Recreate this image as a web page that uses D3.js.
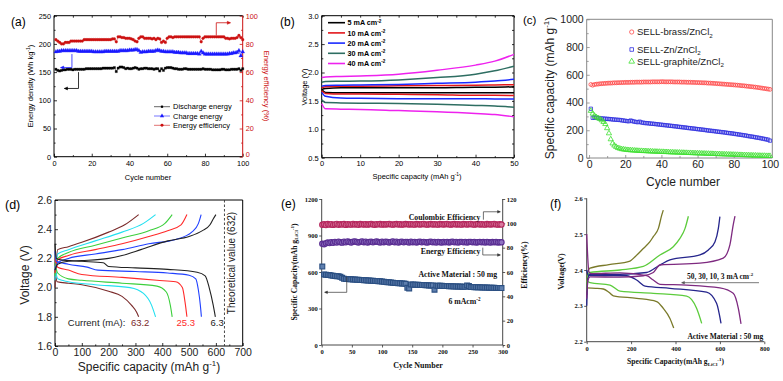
<!DOCTYPE html>
<html><head><meta charset="utf-8">
<script src="https://cdn.jsdelivr.net/npm/d3@7"></script>
<style>body{margin:0;background:#fff}svg{display:block}</style>
</head><body><svg id="c" width="783" height="381"></svg>
<script>
// ---------------- DATA ----------------
// (a)
const A_DIS = [155,153,152,153,154,154,155,155,155,154,155,155,155,155,155,155,156,156,156,156,
156,156,156,156,156,157,157,157,157,157,157,158,151,157,159,159,158,156,157,156,
156,157,158,157,155,156,156,157,157,156,156,156,155,156,156,152,156,153,157,158,
158,158,157,156,156,155,155,155,156,156,155,155,155,155,155,155,155,155,156,155,
155,155,155,154,154,154,154,154,155,155,154,154,154,155,155,155,155,156,153,156];
const A_CH = [186,187,187,188,188,188,188,188,188,188,188,188,187,187,187,187,187,187,187,187,
186,186,186,186,186,186,187,187,187,187,187,187,187,187,188,188,188,188,188,189,
189,189,190,190,188,185,186,186,186,187,187,187,187,188,189,188,187,187,186,186,
186,186,186,185,185,185,184,184,184,184,183,183,183,183,183,183,182,187,184,182,
182,182,182,182,182,182,182,182,182,182,182,182,183,183,184,184,185,188,179,186];
const A_EFF = [83,82,81,80,80,81,81,81,82,82,82,82,82,82,82,83,83,83,83,83,
83,83,83,83,83,83,83,83,83,83,83.5,83.5,81.5,85,85,84.5,84.5,84,84,84,
83.5,83,82,81.5,84,85,85,84,84,84,84,83.5,84,83,84,83.5,81,82,81,84,
85,85,84.5,85,85,85,85,85,85,85,85,85,85,85,85,85,85,81.5,84,85,
85,85,85,85,85,85,85,85,85,85,84,84,83.5,84,84,84,84.5,86,84.5,83];
const A_TICKX = [0,20,40,60,80,100], A_TICKY = [0,50,100,150,200,250], A_TICKY2 = [0,20,40,60,80,100];

// (b)
const B_X = [0,1,5,10,20,30,40,45,50];
const B_LABELS = ["5","10","20","30","40"];
const B_CHG = [
 [1.70,1.72,1.73,1.73,1.73,1.73,1.74,1.74,1.75],
 [1.73,1.75,1.76,1.76,1.765,1.77,1.775,1.78,1.785],
 [1.76,1.77,1.775,1.78,1.79,1.81,1.83,1.85,1.88],
 [1.83,1.84,1.845,1.85,1.87,1.91,1.97,2.03,2.11],
 [1.91,1.92,1.93,1.94,1.97,2.04,2.13,2.20,2.32]];
const B_DIS = [
 [1.70,1.65,1.645,1.645,1.645,1.645,1.645,1.645,1.645],
 [1.68,1.63,1.62,1.62,1.615,1.61,1.60,1.60,1.595],
 [1.65,1.58,1.55,1.545,1.54,1.54,1.54,1.535,1.535],
 [1.52,1.47,1.465,1.46,1.455,1.44,1.42,1.41,1.39],
 [1.45,1.36,1.355,1.35,1.33,1.31,1.28,1.26,1.22]];

// (c)
const C_BRASS = [530,525,530,532,533,535,536,537,538,539,540,540,541,542,542,543,543,544,544,545,
545,545,546,546,546,547,547,547,547,548,548,548,548,548,549,549,549,549,549,550,
550,549,549,549,549,549,548,548,548,548,547,547,547,546,546,546,545,545,544,544,
543,543,542,542,541,540,540,539,538,537,536,535,534,533,532,531,530,529,528,527,
526,525,524,522,521,520,518,517,515,514,512,511,509,507,505,503,501,499,497,495];
const C_ZN = [355,290,292,290,288,286,285,284,283,282,281,280,278,277,276,275,274,272,270,268,
266,265,270,266,262,260,258,262,256,254,252,251,250,248,247,246,244,243,241,240,
238,237,235,234,232,231,229,228,226,224,223,221,220,218,216,215,213,212,210,208,
207,205,204,202,200,198,197,195,194,192,190,189,187,186,184,182,180,179,177,175,
173,171,169,167,165,163,161,158,156,154,152,149,147,145,142,140,137,134,132,125];
const C_GR = [340,320,305,295,288,282,272,260,245,215,178,135,105,90,80,72,68,64,62,60,
58,57,56,55,54,53,52,51,51,50,50,49,48,48,47,46,46,45,45,44,
44,43,43,42,41,41,40,40,39,39,38,38,37,37,36,36,35,35,34,34,
33,33,32,32,31,31,30,30,29,29,28,28,27,27,26,26,25,25,24,24,
23,23,22,22,21,21,20,20,19,19,18,18,17,17,16,16,16,15,15,15];
const C_TICKX = [0,20,40,60,80,100], C_TICKY = [0,200,400,600,800,1000];

// (d)
const D_CURR = ["63.2","","","25.3","","6.3"];
const D_COLORS = ["#7a2a2a","#22e0f0","#3ccf3c","#ff2a2a","#2040ff","#222222"];
const D_CHG = [
 [[0,2.0],[10,2.26],[50,2.28],[100,2.31],[200,2.38],[260,2.43],[312,2.5]],
 [[0,2.05],[10,2.23],[50,2.26],[150,2.32],[250,2.38],[330,2.44],[375,2.5]],
 [[0,2.08],[10,2.2],[50,2.24],[150,2.29],[250,2.34],[350,2.39],[410,2.44],[437,2.5]],
 [[0,2.1],[10,2.19],[50,2.22],[150,2.26],[250,2.30],[350,2.35],[420,2.39],[470,2.43],[492,2.5]],
 [[0,2.12],[10,2.17],[50,2.20],[150,2.23],[250,2.26],[350,2.30],[450,2.33],[510,2.38],[535,2.44],[545,2.5]],
 [[0,2.12],[10,2.16],[50,2.18],[100,2.185],[200,2.20],[250,2.22],[320,2.26],[420,2.32],[500,2.35],[550,2.39],[578,2.43],[590,2.47],[600,2.5]]];
const D_DIS = [
 [[0,2.12],[8,2.04],[50,2.03],[100,2.02],[200,1.975],[250,1.94],[285,1.88],[305,1.83],[312,1.8]],
 [[0,2.15],[10,2.06],[50,2.04],[150,2.02],[280,2.0],[330,1.96],[360,1.88],[375,1.8]],
 [[0,2.17],[10,2.1],[50,2.06],[100,2.05],[250,2.03],[380,2.01],[415,1.97],[430,1.88],[437,1.8]],
 [[0,2.2],[10,2.14],[50,2.12],[100,2.09],[250,2.07],[380,2.05],[450,2.04],[475,2.0],[485,1.9],[492,1.8]],
 [[0,2.25],[5,2.18],[50,2.16],[120,2.14],[160,2.12],[300,2.11],[420,2.10],[500,2.085],[525,2.06],[535,1.98],[542,1.88],[546,1.8]],
 [[0,2.3],[5,2.2],[20,2.19],[100,2.18],[180,2.17],[200,2.145],[300,2.135],[420,2.125],[530,2.105],[560,2.08],[575,2.0],[590,1.88],[598,1.8]]];
const D_THEO = 632;

// (e)
const E_CE = [98.8,99.2,98.6,99.4,98.9,99.3,98.7,99.1,99.5,98.8,99.2,99.0,99.4,98.7,99.3,99.1,98.9,99.5,99.0,99.2,
98.8,99.4,99.1,99.0,99.3,98.9,99.2,99.5,99.0,98.8,99.3,99.1,99.4,98.9,99.2,99.0,99.3,99.5,99.1,98.9,
99.2,99.4,99.0,99.3,98.9,99.1,99.4,99.2,99.0,99.3,99.1,98.9,99.4,99.2,99.0,99.3,99.5,99.1,98.9,99.2,
99.4,99.0,99.3,99.1,98.9,99.4,99.2,99.0,99.3,99.5,99.1,98.9,99.2,99.4,99.0,99.3,99.1,98.9,99.4,99.2,
99.0,99.3,99.5,99.1,98.9,99.2,99.4,99.0,99.3,99.1,98.9,99.4,99.2,99.0,99.3,99.5,99.1,98.9,99.2,99.0];
const E_EE = [83.2,82.8,83.6,84.2,83.8,84.5,84.0,84.8,84.3,85.0,84.5,84.1,84.9,84.4,85.1,84.6,84.2,84.9,85.2,84.7,
84.3,84.8,85.1,84.5,84.9,84.2,84.7,85.0,84.4,84.8,85.1,84.6,84.3,84.9,84.5,85.0,84.7,84.3,84.8,85.1,
84.5,84.9,84.2,84.7,85.0,84.4,84.8,84.6,84.3,84.9,84.5,84.8,84.3,84.7,85.0,84.4,84.8,84.5,84.2,84.7,
84.9,84.4,84.7,84.3,84.8,84.5,84.2,84.7,84.4,84.8,84.3,84.6,84.9,84.4,84.7,84.3,84.6,84.8,84.4,84.7,
84.3,84.6,84.8,84.4,84.7,84.3,84.5,84.8,84.4,84.6,84.3,84.7,84.5,84.2,84.6,84.4,84.7,84.3,84.5,84.4];
const E_CAP = [645,580,578,576,575,572,570,568,566,565,560,552,545,543,542,541,540,539,538,537,
536,535,534,533,532,531,530,529,528,527,526,525,524,522,520,518,516,515,514,512,
510,510,508,507,506,505,503,470,465,498,497,496,496,495,494,493,493,492,491,490,
490,489,455,488,487,487,486,485,485,484,483,483,482,481,481,480,480,479,478,478,
490,485,476,476,475,475,474,474,473,473,472,472,471,471,470,470,469,469,469,468];
const E_TICKX = [0,50,100,150,200,250,300], E_TICKY = [0,300,600,900,1200], E_TICKY2 = [0,20,40,60,80,100,120];

// (f)
const F_COLORS = ["#7a7a2a","#5ccc3c","#25258c","#7e2a80"];
const F_CHG = [
 [[0,2.33],[3,2.39],[15,2.405],[100,2.415],[195,2.425],[218,2.437],[255,2.46],[285,2.479],[300,2.493],[323,2.516],[338,2.553],[345,2.567]],
 [[0,2.34],[5,2.385],[15,2.393],[150,2.4],[255,2.41],[330,2.442],[390,2.465],[420,2.488],[443,2.516],[458,2.55]],
 [[0,2.3],[5,2.375],[15,2.388],[150,2.388],[270,2.393],[330,2.414],[375,2.428],[510,2.442],[548,2.456],[578,2.479],[593,2.516],[600,2.549]],
 [[0,2.32],[5,2.37],[15,2.381],[150,2.38],[255,2.384],[300,2.393],[330,2.414],[510,2.419],[615,2.433],[645,2.47],[660,2.526],[668,2.55]]];
const F_DIS = [
 [[0,2.35],[40,2.349],[75,2.347],[100,2.338],[120,2.328],[225,2.321],[315,2.312],[345,2.293],[375,2.265],[392,2.238]],
 [[0,2.37],[15,2.365],[105,2.358],[150,2.341],[300,2.335],[450,2.327],[495,2.293],[518,2.251]],
 [[0,2.40],[8,2.385],[180,2.384],[225,2.372],[263,2.355],[375,2.349],[540,2.338],[585,2.307],[605,2.251]],
 [[0,2.5],[10,2.395],[20,2.39],[150,2.392],[270,2.384],[300,2.372],[330,2.36],[450,2.358],[600,2.35],[660,2.335],[683,2.293],[695,2.25]]];
const F_TICKX = [0,200,400,600,800], F_TICKY = [2.2,2.3,2.4,2.5,2.6];

// ---------------- HELPERS ----------------
const SANS = "'Liberation Sans', Arial, sans-serif";
const SERIF = "'Liberation Serif', 'Times New Roman', serif";
const INT = d3.format('d');
const svg = d3.select('#c');
svg.append('rect').attr('width',783).attr('height',381).attr('fill','#fff');

function ax(gen, tr, o) {
  const a = svg.append('g').attr('transform', tr).call(gen);
  a.select('.domain').remove();
  a.selectAll('.tick line').attr('stroke', o.c || '#000').attr('stroke-width', o.w || 0.8);
  a.selectAll('.tick text').attr('font-family', o.f || SANS).attr('font-size', o.s || 8)
    .attr('font-weight', o.b ? 'bold' : 'normal').attr('fill', o.tc || o.c || '#000');
  return a;
}
function frame(x, y, sides, color, w) {
  const [x0,x1] = x.range(), [y0,y1] = y.range();
  const seg = {l:[x0,y0,x0,y1], r:[x1,y0,x1,y1], t:[x0,y1,x1,y1], b:[x0,y0,x1,y0]};
  sides.split('').forEach(s => {
    const v = seg[s];
    svg.append('line').attr('x1',v[0]).attr('y1',v[1]).attr('x2',v[2]).attr('y2',v[3])
      .attr('stroke', (color && color[s]) || '#000').attr('stroke-width', w || 1);
  });
}
function rich(t, parts, fs) {
  let shift = 0;
  parts.forEach(p => {
    const s = p[0], k = p[1] || 'n';
    const target = k === 'sup' ? -0.38*fs : k === 'sub' ? 0.25*fs : 0;
    const ts = t.append('tspan').text(s).attr('dy', target - shift);
    if (k !== 'n') ts.attr('font-size', fs*0.65);
    shift = target;
  });
  return t;
}
function txt(x, y, parts, o) {
  const t = svg.append('text').attr('font-family', o.f || SANS).attr('font-size', o.s)
    .attr('font-weight', o.b ? 'bold' : 'normal').attr('fill', o.c || '#000')
    .attr('text-anchor', o.a || 'start');
  if (o.rot) t.attr('transform', `translate(${x},${y}) rotate(${o.rot})`);
  else t.attr('x', x).attr('y', y);
  return rich(t, typeof parts === 'string' ? [[parts]] : parts, o.s);
}
function arrowPath(pts, color, w, head) {
  svg.append('path').attr('d', d3.line()(pts)).attr('fill','none').attr('stroke',color).attr('stroke-width', w||0.8);
  const [p1, p0] = [pts[pts.length-1], pts[pts.length-2]];
  const ang = Math.atan2(p1[1]-p0[1], p1[0]-p0[0]), h = head || 4;
  const a1 = [p1[0]-h*Math.cos(ang-0.45), p1[1]-h*Math.sin(ang-0.45)];
  const a2 = [p1[0]-h*Math.cos(ang+0.45), p1[1]-h*Math.sin(ang+0.45)];
  svg.append('path').attr('d', d3.line()([p1,a1,a2,p1])).attr('fill',color).attr('stroke',color).attr('stroke-width',0.5);
}
function symbols(data, x, y, type, size, fill, stroke, sw) {
  const sym = d3.symbol().type(type).size(size);
  svg.append('g').selectAll('path').data(data).join('path')
    .attr('transform', d => `translate(${x(d[0])},${y(d[1])})`).attr('d', sym)
    .attr('fill', fill).attr('stroke', stroke).attr('stroke-width', sw || 0.8);
}
function curve(data, x, y, color, w, c) {
  svg.append('path').datum(data).attr('fill','none').attr('stroke',color).attr('stroke-width',w)
    .attr('stroke-linejoin','round')
    .attr('d', d3.line().x(d=>x(d[0])).y(d=>y(d[1])).curve(c || d3.curveMonotoneX));
}

// ---------------- (a) ----------------
{
  const cyc = d3.range(1, 101);
  const x = d3.scaleLinear().domain([0,100]).range([54,242.7]);
  const y = d3.scaleLinear().domain([0,250]).range([156.7,15.7]);
  const y2 = d3.scaleLinear().domain([0,100]).range([156.7,15.7]);
  const red = '#cc1010', blue = '#1a1aff';
  ax(d3.axisBottom(x).tickValues(A_TICKX).tickSize(-3).tickPadding(4), `translate(0,156.7)`, {s:7.3});
  ax(d3.axisBottom(x).tickValues(d3.range(10,100,20)).tickSize(-1.6).tickFormat(''), `translate(0,156.7)`, {});
  ax(d3.axisTop(x).tickValues(d3.range(0,101,10)).tickSize(-2).tickFormat(''), `translate(0,15.7)`, {});
  ax(d3.axisLeft(y).tickValues(A_TICKY).tickSize(-3).tickPadding(3), `translate(54,0)`, {s:7.3});
  ax(d3.axisLeft(y).tickValues(d3.range(25,250,50)).tickSize(-1.6).tickFormat(''), `translate(54,0)`, {});
  const r = ax(d3.axisRight(y2).tickValues(A_TICKY2).tickSize(-3).tickPadding(3), `translate(242.7,0)`, {s:7.3, c:red});
  r.selectAll('.tick text').filter(d => d === 0).attr('dy', '-0.05em');
  ax(d3.axisRight(y2).tickValues(d3.range(10,100,20)).tickSize(-1.6).tickFormat(''), `translate(242.7,0)`, {c:red});
  frame(x, y, 'ltb'); frame(x, y, 'r', {r:red});
  const dis = cyc.map((c,i)=>[c,A_DIS[i]]), ch = cyc.map((c,i)=>[c,A_CH[i]]), ef = cyc.map((c,i)=>[c,A_EFF[i]]);
  curve(dis, x, y, '#000', 0.5, d3.curveLinear); symbols(dis, x, y, d3.symbolSquare, 5, '#000', '#000', 0.3);
  curve(ch, x, y, blue, 0.5, d3.curveLinear); symbols(ch, x, y, d3.symbolTriangle, 7, blue, blue, 0.3);
  curve(ef, x, y2, red, 0.5, d3.curveLinear); symbols(ef, x, y2, d3.symbolCircle, 6, red, red, 0.3);
  const lg = [['Discharge energy','#000',d3.symbolSquare,5],['Charge energy',blue,d3.symbolTriangle,8],['Energy efficiency',red,d3.symbolCircle,7]];
  lg.forEach((l,i)=>{
    const yy = 106.7 + i*9.3;
    svg.append('line').attr('x1',154).attr('x2',170).attr('y1',yy).attr('y2',yy).attr('stroke',l[1]).attr('stroke-width',0.6);
    svg.append('path').attr('transform',`translate(162,${yy})`).attr('d',d3.symbol().type(l[2]).size(l[3])()).attr('fill',l[1]);
    txt(173, yy+2.7, l[0], {s:7.5});
  });
  arrowPath([[x(13),y(150)],[x(13),y(121)],[x(5.5),y(121)]], '#000', 0.8, 3.5);
  arrowPath([[x(9.5),y(182)],[x(9.5),y(158)],[x(3.5),y(158)]], blue, 0.8, 3.5);
  arrowPath([[x(86),y2(86)],[x(86),y2(95)],[x(93.5),y2(95)]], red, 0.8, 3.5);
  txt(148, 180, 'Cycle number', {s:7.5, a:'middle'});
  txt(32.5, 86, [['Energy density (Wh kg'],['-1','sup'],[')']], {s:7.5, a:'middle', rot:-90});
  txt(263.5, 86, 'Energy efficiency (%)', {s:7.5, a:'middle', rot:90, c:red});
  txt(11, 26, '(a)', {s:12});
}

// ---------------- (b) ----------------
{
  const x = d3.scaleLinear().domain([0,50]).range([321.7,514]);
  const y = d3.scaleLinear().domain([0.5,3.0]).range([157.7,15.7]);
  ax(d3.axisBottom(x).tickValues([0,10,20,30,40,50]).tickSize(-3).tickPadding(3), `translate(0,157.7)`, {s:7.5});
  ax(d3.axisBottom(x).tickValues([5,15,25,35,45]).tickSize(-1.6).tickFormat(''), `translate(0,157.7)`, {});
  ax(d3.axisTop(x).tickValues(d3.range(0,51,5)).tickSize(-2).tickFormat(''), `translate(0,15.7)`, {});
  ax(d3.axisLeft(y).tickValues([0.5,1.0,1.5,2.0,2.5,3.0]).tickSize(-3).tickPadding(3).tickFormat(d3.format('.1f')), `translate(321.7,0)`, {s:7.5});
  ax(d3.axisLeft(y).tickValues([0.75,1.25,1.75,2.25,2.75]).tickSize(-1.6).tickFormat(''), `translate(321.7,0)`, {});
  ax(d3.axisRight(y).tickValues(d3.range(0.5,3.01,0.25)).tickSize(-2).tickFormat(''), `translate(514,0)`, {});
  frame(x, y, 'lrtb');
  const cols = ['#000000','#e3161b','#1a2aff','#2e6e62','#ee22ee'];
  B_LABELS.forEach((lab,i)=>{
    curve(B_X.map((v,j)=>[v,B_CHG[i][j]]), x, y, cols[i], 1.5);
    curve(B_X.map((v,j)=>[v,B_DIS[i][j]]), x, y, cols[i], 1.5);
    const yy = 22.7 + i*10.2;
    svg.append('line').attr('x1',328).attr('x2',345).attr('y1',yy).attr('y2',yy).attr('stroke',cols[i]).attr('stroke-width',1.6);
    txt(347.5, yy+2.6, [[lab+' mA cm'],['-2','sup']], {s:7.2, b:true});
  });
  txt(417, 179, [['Specific capacity (mAh g'],['-1','sup'],[')']], {s:7.5, a:'middle'});
  txt(306.5, 87, 'Voltage (V)', {s:7.5, a:'middle', rot:-90});
  txt(280, 26, '(b)', {s:12});
}

// ---------------- (c) ----------------
{
  const cyc = d3.range(1, 101);
  const x = d3.scaleLinear().domain([-1.3,101.3]).range([586.7,772.3]);
  const y = d3.scaleLinear().domain([0,1000]).range([158,19.3]);
  const gc = '#888';
  ax(d3.axisBottom(x).tickValues(C_TICKX).tickSize(-3).tickPadding(3).tickFormat(INT), `translate(0,158)`, {s:10.5, c:gc, tc:'#222'});
  ax(d3.axisBottom(x).tickValues(d3.range(10,100,20)).tickSize(-2).tickFormat(''), `translate(0,158)`, {c:gc});
  ax(d3.axisLeft(y).tickValues(C_TICKY).tickSize(-3).tickPadding(3).tickFormat(INT), `translate(586.7,0)`, {s:10.5, c:gc, tc:'#222'});
  ax(d3.axisLeft(y).tickValues(d3.range(100,1000,200)).tickSize(-2).tickFormat(''), `translate(586.7,0)`, {c:gc});
  frame(x, y, 'lrtb', {l:gc,r:gc,t:gc,b:gc}, 1);
  const red = '#ff4a4a', blue = '#3030e0', green = '#3ee030';
  symbols(cyc.map((c,i)=>[c,C_ZN[i]]), x, y, d3.symbolSquare, 11, 'none', blue, 0.8);
  symbols(cyc.map((c,i)=>[c,C_GR[i]]), x, y, d3.symbolTriangle, 12, 'none', green, 0.8);
  symbols(cyc.map((c,i)=>[c,C_BRASS[i]]), x, y, d3.symbolCircle, 12, 'none', red, 0.8);
  const lg = [['SELL-brass/ZnCl',red,d3.symbolCircle,14,32],['SELL-Zn/ZnCl',blue,d3.symbolSquare,13,49.5],['SELL-graphite/ZnCl',green,d3.symbolTriangle,14,61.5]];
  lg.forEach(l=>{
    svg.append('path').attr('transform',`translate(631.7,${l[4]})`).attr('d',d3.symbol().type(l[2]).size(l[3])()).attr('fill','none').attr('stroke',l[1]).attr('stroke-width',0.8);
    txt(637, l[4]+3.4, [[l[0]],['2','sub']], {s:9.5, c:'#222'});
  });
  txt(683, 186, 'Cycle number', {s:12, a:'middle', c:'#222'});
  txt(554, 88, [['Specific capacity (mAh g'],['-1','sup'],[')']], {s:12, a:'middle', rot:-90, c:'#222'});
  txt(523, 24, '(c)', {s:11.5});
}

// ---------------- (d) ----------------
{
  const x = d3.scaleLinear().domain([0,700]).range([55,242.7]);
  const y = d3.scaleLinear().domain([1.6,2.6]).range([346,200]);
  ax(d3.axisBottom(x).tickValues(d3.range(0,701,100)).tickSize(-3).tickPadding(3), `translate(0,346)`, {s:10.5, tc:'#222'});
  ax(d3.axisBottom(x).tickValues(d3.range(50,700,100)).tickSize(-1.6).tickFormat(''), `translate(0,346)`, {});
  ax(d3.axisLeft(y).tickValues([1.6,1.8,2.0,2.2,2.4,2.6]).tickSize(-3).tickPadding(3).tickFormat(d3.format('.1f')), `translate(55,0)`, {s:10.5, tc:'#222'});
  ax(d3.axisLeft(y).tickValues([1.7,1.9,2.1,2.3,2.5]).tickSize(-1.6).tickFormat(''), `translate(55,0)`, {});
  frame(x, y, 'lrtb');
  D_CHG.forEach((c,i)=>{ curve(c, x, y, D_COLORS[i], 1.1); curve(D_DIS[i], x, y, D_COLORS[i], 1.1); });
  svg.append('line').attr('x1',x(D_THEO)).attr('x2',x(D_THEO)).attr('y1',y(2.6)).attr('y2',y(1.6))
    .attr('stroke','#333').attr('stroke-width',0.9).attr('stroke-dasharray','2.5,2');
  txt(x(D_THEO)+10.5, 263, 'Theoretical value (632)', {s:10, a:'middle', rot:-90, c:'#222'});
  txt(x(48), y(1.737), 'Current (mA):', {s:9.5, c:'#222'});
  txt(x(283), y(1.737), D_CURR[0], {s:9.5, c:D_COLORS[0]});
  txt(x(453), y(1.737), D_CURR[3], {s:9.5, c:D_COLORS[3]});
  txt(x(580), y(1.737), D_CURR[5], {s:9.5, c:D_COLORS[5]});
  txt(149, 371, [['Specific capacity (mAh g'],['-1','sup'],[')']], {s:12, a:'middle', c:'#222'});
  txt(29, 275, 'Voltage (V)', {s:12, a:'middle', rot:-90, c:'#222'});
  txt(5, 209, '(d)', {s:12.5});
}

// ---------------- (e) ----------------
{
  const cyc = d3.range(1, 301, 3);
  const x = d3.scaleLinear().domain([0,300]).range([321.7,502.7]);
  const y = d3.scaleLinear().domain([0,1200]).range([345,199]);
  const y2 = d3.scaleLinear().domain([0,120]).range([345,199]);
  const o = {s:6.5, f:SERIF, b:true, c:'#333', tc:'#111'};
  ax(d3.axisBottom(x).tickValues(E_TICKX).tickSize(2.5).tickPadding(2).tickFormat(INT), `translate(0,345)`, o);
  ax(d3.axisLeft(y).tickValues(E_TICKY).tickSize(2.5).tickPadding(1.5).tickFormat(INT), `translate(321.7,0)`, o);
  ax(d3.axisRight(y2).tickValues(E_TICKY2).tickSize(2.5).tickPadding(1.5).tickFormat(INT), `translate(502.7,0)`, o);
  frame(x, y, 'lrb', {l:'#333',r:'#333',b:'#333'}, 0.9);
  const ce = '#b5285e', ee = '#5a2e92', cap = '#2b4f82';
  symbols(cyc.map((c,i)=>[c,E_CE[i]]), x, y2, d3.symbolCircle, 22, '#d77a9e', ce, 1.1);
  symbols(cyc.map((c,i)=>[c,E_EE[i]]), x, y2, d3.symbolCircle, 22, '#8f74c0', ee, 1.1);
  symbols(cyc.map((c,i)=>[c,E_CAP[i]]), x, y, d3.symbolSquare, 24, '#5f7fae', cap, 1.1);
  txt(x(263), y2(102.6), 'Coulombic Efficiency', {s:7.8, f:SERIF, b:true, a:'end', c:'#111'});
  txt(x(263), y2(75.0), 'Energy Efficiency', {s:7.8, f:SERIF, b:true, a:'end', c:'#111'});
  txt(x(291), y2(56), 'Active Material : 50 mg', {s:7.8, f:SERIF, b:true, a:'end', c:'#111'});
  txt(x(210), y2(34), [['6 mAcm'],['-2','sup']], {s:7.8, f:SERIF, b:true, c:'#111'});
  arrowPath([[x(268),y2(103)],[x(268),y2(109.5)],[x(296),y2(109.5)]], '#333', 0.7, 3);
  arrowPath([[x(267),y2(80)],[x(267),y2(74)],[x(296),y2(74)]], '#333', 0.7, 3);
  arrowPath([[x(41.5),y(561)],[x(41.5),y(433)],[x(5),y(433)]], '#333', 0.7, 3);
  txt(418, 368, 'Cycle Number', {s:8, f:SERIF, b:true, a:'middle', c:'#111'});
  txt(296.5, 272, [['Specific Capacity(mAh g'],['LiCl','sub'],['-1','sup'],[')']], {s:7.6, f:SERIF, b:true, a:'middle', rot:-90, c:'#111'});
  txt(527, 265, 'Efficiency(%)', {s:8, f:SERIF, b:true, a:'middle', rot:-90, c:'#111'});
  txt(281, 208, '(e)', {s:12});
}

// ---------------- (f) ----------------
{
  const x = d3.scaleLinear().domain([0,800]).range([586.7,764.3]);
  const y = d3.scaleLinear().domain([2.2,2.6]).range([341.7,198.3]);
  const o = {s:6.5, f:SERIF, b:true, c:'#333', tc:'#111'};
  ax(d3.axisBottom(x).tickValues(F_TICKX).tickSize(2.5).tickPadding(2).tickFormat(INT), `translate(0,341.7)`, o);
  ax(d3.axisLeft(y).tickValues(F_TICKY).tickSize(2.5).tickPadding(1.5).tickFormat(d3.format('.1f')), `translate(586.7,0)`, o);
  frame(x, y, 'lb', {l:'#333',b:'#333'}, 0.9);
  F_CHG.forEach((c,i)=>{ curve(c, x, y, F_COLORS[i], 1.3); curve(F_DIS[i], x, y, F_COLORS[i], 1.3); });
  arrowPath([[x(776),y(2.3646)],[x(428),y(2.3646)]], '#555', 0.8, 3);
  txt(x(452), y(2.374), [['50, 30, 10, 3 mA cm'],['-2','sup']], {s:7.5, f:SERIF, b:true, c:'#111'});
  txt(x(795), y(2.207), 'Active Material : 50 mg', {s:7.5, f:SERIF, b:true, a:'end', c:'#111'});
  txt(675.5, 364, [['Specific Capacity(mAh g'],['LiCl','sub'],['-1','sup'],[')']], {s:7.6, f:SERIF, b:true, a:'middle', c:'#111'});
  txt(564, 271.5, 'Voltage(V)', {s:8, f:SERIF, b:true, a:'middle', rot:-90, c:'#111'});
  txt(550, 208, '(f)', {s:12});
}
</script></body></html>
